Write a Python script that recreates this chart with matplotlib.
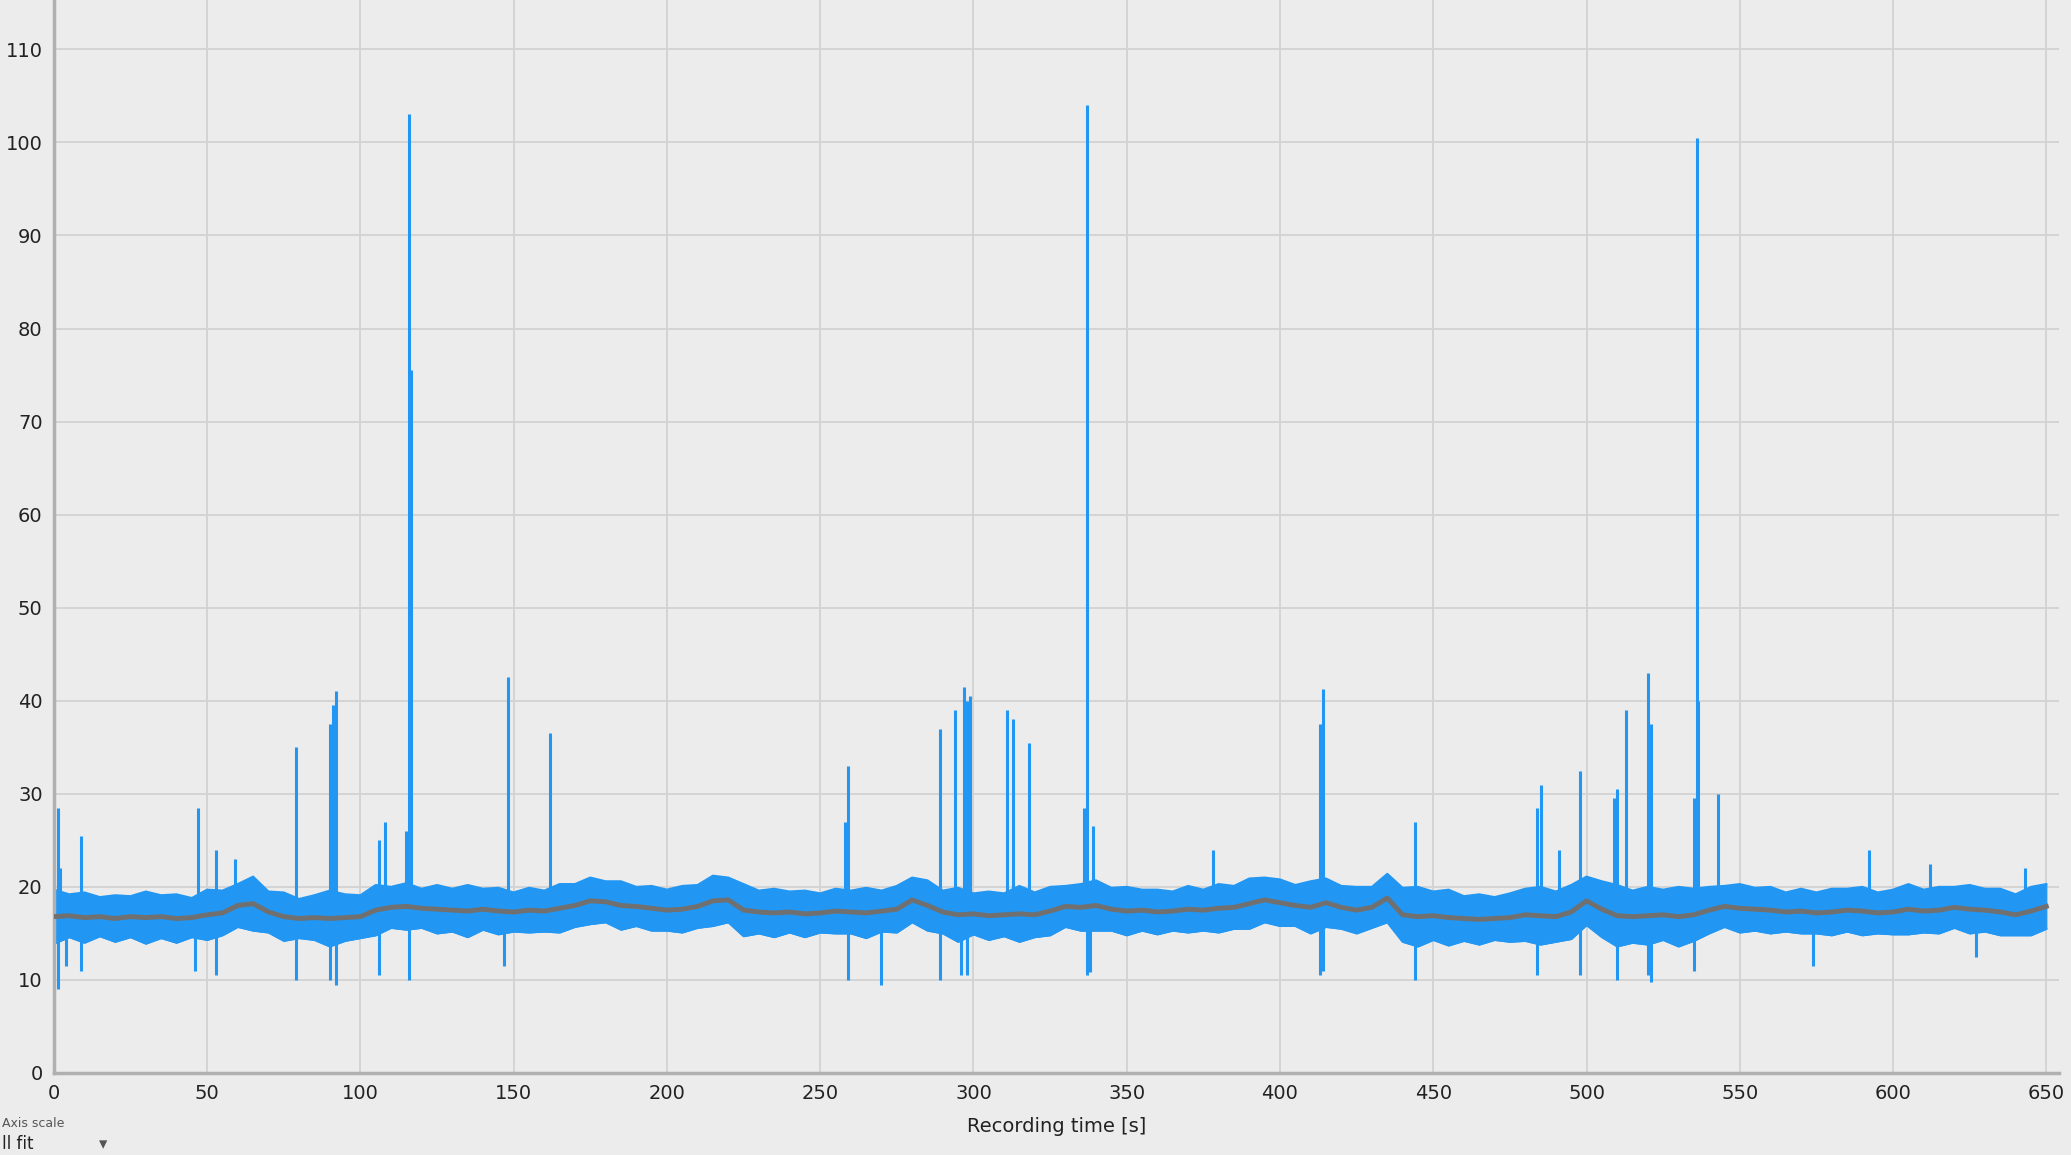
import numpy as np
from matplotlib import pyplot as plt

# time grid of the hand-read envelope (every 5 s)
t = np.arange(0, 651, 5)

# grey moving-average line, read every 5 s
baseline = [16.8, 16.9, 16.7, 16.8, 16.6, 16.8, 16.7, 16.8, 16.6, 16.7, 17.0, 17.2,
            18.0, 18.2, 17.3, 16.8, 16.6, 16.7, 16.6, 16.7,
            16.8, 17.5, 17.8, 17.9, 17.7, 17.6, 17.5, 17.4, 17.6, 17.4, 17.3, 17.5, 17.4, 17.7, 18.0, 18.5,
            18.4, 18.0, 17.9, 17.7, 17.5, 17.6, 17.9, 18.5,
            18.6, 17.5, 17.3, 17.2, 17.3, 17.1, 17.2, 17.4, 17.3, 17.2, 17.4, 17.6,
            18.6, 18.0, 17.3, 17.0, 17.1, 16.9, 17.0, 17.1, 17.0, 17.4, 17.9, 17.8,
            18.0, 17.6, 17.4, 17.5, 17.3, 17.4, 17.6, 17.5, 17.7, 17.8, 18.2, 18.6,
            18.3, 18.0, 17.8, 18.3, 17.8, 17.5, 17.8, 18.8,
            17.0, 16.8, 16.9, 16.7, 16.6, 16.5, 16.6, 16.7, 17.0, 16.9, 16.8, 17.3,
            18.5, 17.6, 16.9, 16.8, 16.9, 17.0, 16.8, 17.0,
            17.5, 17.9, 17.7, 17.6, 17.5, 17.3, 17.4, 17.2, 17.3, 17.5, 17.4, 17.2,
            17.3, 17.6, 17.4, 17.5, 17.8, 17.6, 17.5, 17.3, 17.0, 17.4, 17.9]

# half-width of the blue noise band, read every 5 s
spread = [2.9, 2.3, 2.7, 2.1, 2.5, 2.2, 2.8, 2.3, 2.6, 2.1, 2.7, 2.4,
          2.3, 2.9, 2.2, 2.6, 2.1, 2.4, 3.0, 2.5,
          2.3, 2.7, 2.2, 2.5, 2.1, 2.6, 2.3, 2.8, 2.2, 2.5, 2.1, 2.4, 2.2, 2.6, 2.3, 2.5,
          2.2, 2.6, 2.1, 2.4, 2.2, 2.5, 2.3, 2.7,
          2.4, 2.8, 2.3, 2.6, 2.2, 2.5, 2.1, 2.4, 2.3, 2.7, 2.2, 2.5,
          2.4, 2.7, 2.3, 2.9, 2.2, 2.6, 2.3, 3.0, 2.4, 2.6, 2.2, 2.5,
          2.7, 2.3, 2.6, 2.2, 2.4, 2.1, 2.5, 2.2, 2.6, 2.3, 2.7, 2.4,
          2.5, 2.2, 2.8, 2.6, 2.3, 2.5, 2.2, 2.6,
          2.9, 3.2, 2.6, 3.0, 2.4, 2.7, 2.3, 2.6, 2.8, 3.1, 2.7, 2.9,
          2.6, 3.0, 3.3, 2.8, 3.1, 2.7, 3.2, 2.8,
          2.5, 2.2, 2.6, 2.3, 2.5, 2.1, 2.4, 2.2, 2.5, 2.3, 2.6, 2.2,
          2.4, 2.7, 2.3, 2.5, 2.2, 2.6, 2.3, 2.5, 2.2, 2.6, 2.4]

# upward spikes: time [s], peak value
up_t = [1.5, 2, 9, 47, 53, 59, 79, 90, 91, 92, 106, 108, 115, 116, 116.5, 148, 162,
        258, 259, 289, 294, 297, 298, 299, 311, 313, 318, 336, 337, 339, 378, 413, 414,
        444, 484, 485, 491, 498, 509, 510, 513, 520, 521, 535, 536, 536.5, 543, 592, 612, 643]
up_v = [28.5, 22, 25.5, 28.5, 24, 23, 35, 37.5, 39.5, 41, 25, 27, 26, 103, 75.5, 42.5, 36.5,
        27, 33, 37, 39, 41.5, 40, 40.5, 39, 38, 35.5, 28.5, 104, 26.5, 24, 37.5, 41.3,
        27, 28.5, 31, 24, 32.5, 29.5, 30.5, 39, 43, 37.5, 29.5, 100.5, 40, 30, 24, 22.5, 22]

# downward spikes: time [s], lowest value
down_t = [1.5, 4, 9, 46, 53, 79, 90, 92, 106, 116, 147, 259, 270, 289, 296, 298, 337, 338,
          413, 414, 444, 484, 498, 510, 520, 521, 535, 574, 627]
down_v = [9, 11.5, 11, 11, 10.5, 10, 10, 9.5, 10.5, 10, 11.5, 10, 9.5, 10, 10.5, 10.5, 10.5, 10.8,
          10.5, 11, 10, 10.5, 10.5, 10, 10.5, 9.8, 11, 11.5, 12.5]

blue = '#2196F3'
bg = '#ececec'

fig = plt.figure(figsize=(20.71, 11.55), dpi=100, facecolor=bg)
ax = fig.add_axes([0.026, 0.071, 0.968, 0.929], facecolor=bg)

base = np.array(baseline)
sp = np.array(spread)
ax.fill_between(t, base - sp, base + sp, color=blue, lw=0.8, zorder=2)
ax.plot(t, base + sp, color=blue, lw=1.5, zorder=2)
ax.plot(t, base - sp, color=blue, lw=1.5, zorder=2)

ax.vlines(up_t, np.interp(up_t, t, base), up_v, color=blue, lw=2.2, zorder=2)
ax.vlines(down_t, down_v, np.interp(down_t, t, base), color=blue, lw=2.2, zorder=2)

ax.plot(t, base, color='#707070', lw=3.5, zorder=3)

ax.set_xlim(0, 654)
ax.set_ylim(0, 115.3)
ax.set_xticks(np.arange(0, 651, 50))
ax.set_yticks(np.arange(0, 111, 10))
ax.grid(True, color='#d2d2d2', lw=1.3)
ax.set_axisbelow(True)
for s in ['top', 'right']:
    ax.spines[s].set_visible(False)
for s in ['left', 'bottom']:
    ax.spines[s].set_color('#b0b0b0')
    ax.spines[s].set_linewidth(2.5)
ax.tick_params(length=0, labelsize=14, pad=8, colors='#222222')
ax.set_xlabel('Recording time [s]', fontsize=14, color='#222222', labelpad=10)

fig.text(0.001, 0.024, 'Axis scale', fontsize=9, color='#555555')
fig.text(0.001, 0.002, 'll fit', fontsize=12, color='#222222', va='bottom')
fig.text(0.048, 0.002, '\u25be', fontsize=12, color='#555555', va='bottom')

plt.savefig('out.png', dpi=100, facecolor=bg)
